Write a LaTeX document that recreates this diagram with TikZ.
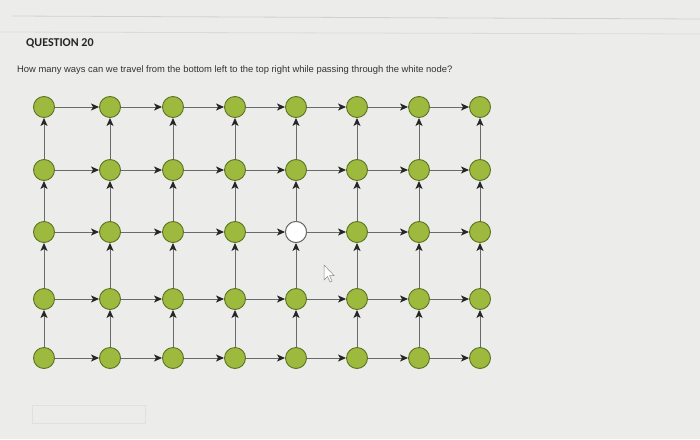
\documentclass[tikz,border=0pt]{standalone}
\usepackage{fontspec}
\setmainfont{Liberation Sans}
\newfontfamily\qfont{Carlito}
\usetikzlibrary{arrows.meta}
\definecolor{bg}{HTML}{ECEDEA}
\definecolor{nodefill}{HTML}{9DBA3E}
\definecolor{nodeline}{HTML}{5C7220}
\definecolor{edgecol}{HTML}{6A6A6A}
\tikzset{
  gnode/.style={circle, draw=nodeline, fill=nodefill, line width=0.9pt, minimum size=21pt, inner sep=0pt},
  wnode/.style={circle, draw=edgecol, fill=white, line width=0.9pt, minimum size=21pt, inner sep=0pt},
  edge/.style={draw=edgecol, line width=1pt, -{Stealth[length=8pt,width=7pt,inset=2pt,color=black!85]}}
}
\begin{document}
\begin{tikzpicture}[x=1pt,y=-1pt]
\fill[bg] (0,0) rectangle (700,439);
\useasboundingbox (0,0) rectangle (700,439);
\draw[black!18, line width=0.8pt] (12,16) -- (700,19);
\draw[black!14, line width=0.8pt] (0,32) -- (700,34);
\node[anchor=west, inner sep=0pt, font=\qfont\bfseries\fontsize{12}{14}\selectfont, text=black!85] (q) at (26,43) {QUESTION 20};
\node[anchor=west, inner sep=0pt, font=\fontsize{9.4}{11}\selectfont, text=black!80] (t) at (17,70) {How many ways can we travel from the bottom left to the top right while passing through the white node?};
\foreach \c/\x in {1/44,2/110,3/173,4/235,5/296,6/357,7/419,8/480}{
  \foreach \r/\y in {1/107,2/170,3/232,4/299,5/358}{
    \node[gnode] (n\c\r) at (\x,\y) {};
  }
}
\node[wnode] (w) at (n53) {};
\foreach \c in {1,...,8}{
  \foreach \r/\rr in {2/1,3/2,4/3,5/4}{
    \draw[edge] (n\c\r) -- (n\c\rr);
  }
}
\foreach \c/\cc in {1/2,2/3,3/4,4/5,5/6,6/7,7/8}{
  \foreach \r in {1,...,5}{
    \draw[edge] (n\c\r) -- (n\cc\r);
  }
}
% mouse cursor
\draw[black!45, fill=white, line width=0.5pt] (324,265) -- (324,280) -- (327.5,276.5) -- (330,282) -- (332,281) -- (329.5,275.5) -- (334,275.5) -- cycle;
% empty input box
\draw[black!12, line width=0.8pt] (32,405) rectangle (145,423);
\end{tikzpicture}
\end{document}
